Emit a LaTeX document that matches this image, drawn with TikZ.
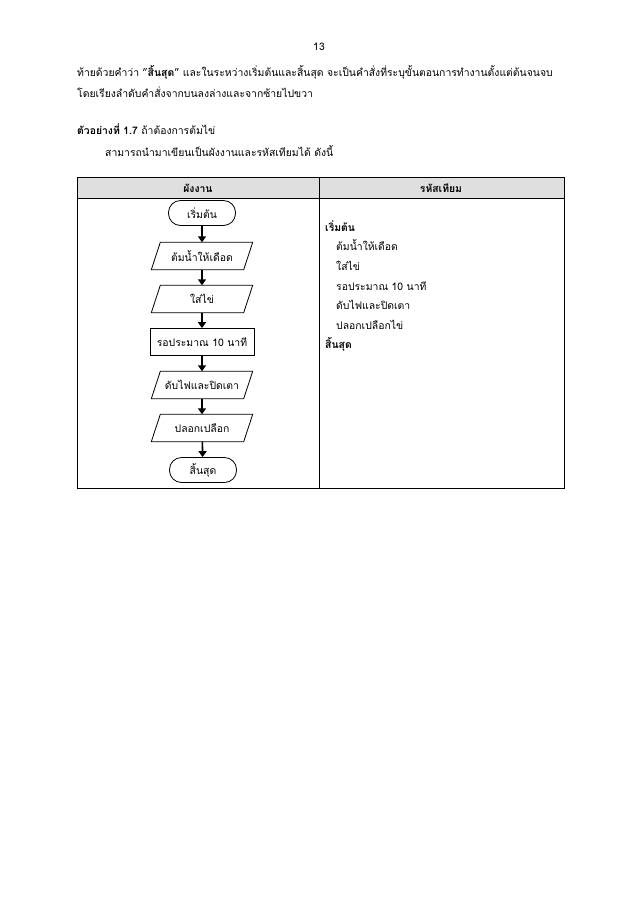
\documentclass[tikz,border=0pt]{standalone}
\usepackage{fontspec}
\setmainfont[Script=Thai]{Loma}
\usetikzlibrary{arrows.meta,calc}
\begin{document}
\begin{tikzpicture}[x=1pt,y=-1pt,font=\fontsize{10.4}{12}\selectfont,
  txt/.style={anchor=base west,inner sep=0},
  term/.style={draw,thick,rounded corners=12pt,minimum width=67pt,minimum height=25pt,inner sep=0},
  io/.style={minimum width=92pt,minimum height=27pt,inner sep=0},
  proc/.style={draw,thick,minimum width=104pt,minimum height=27pt,inner sep=0},
  arr/.style={line width=1.6pt,-{Triangle[length=6pt,width=8pt]}}]
\useasboundingbox (0,0) rectangle (638,903);
\newcommand\pgram[1]{\draw[thick] ($(#1.north west)+(4.5pt,0)$) -- ($(#1.north east)+(4.5pt,0)$) -- ($(#1.south east)+(-4.5pt,0)$) -- ($(#1.south west)+(-4.5pt,0)$) -- cycle;}
\node[inner sep=0] (pg) at (319,47) {13};
\node[txt] (l1) at (77,76) {ท้ายด้วยคำว่า "\textbf{สิ้นสุด}" และในระหว่างเริ่มต้นและสิ้นสุด จะเป็นคำสั่งที่ระบุขั้นตอนการทำงานตั้งแต่ต้นจนจบ};
\node[txt] (l2) at (77,97) {โดยเรียงลำดับคำสั่งจากบนลงล่างและจากซ้ายไปขวา};
\node[txt] (l3) at (77,134) {\textbf{ตัวอย่างที่ 1.7} ถ้าต้องการต้มไข่};
\node[txt] (l4) at (105,156) {สามารถนำมาเขียนเป็นผังงานและรหัสเทียมได้ ดังนี้};
% table
\fill[gray!25] (77,177) rectangle (564,198);
\draw (77,177) rectangle (564,488);
\draw (77,198) -- (564,198);
\draw (319,177) -- (319,488);
\node[font=\fontsize{10.4}{12}\selectfont\bfseries] (h1) at (198,188) {ผังงาน};
\node[font=\fontsize{10.4}{12}\selectfont\bfseries] (h2) at (441,188) {รหัสเทียม};
% flowchart
\node[term] (s) at (202,213) {เริ่มต้น};
\node[io] (a) at (202,256) {ต้มน้ำให้เดือด}; \pgram{a}
\node[io] (b) at (202,299) {ใส่ไข่}; \pgram{b}
\node[proc] (c) at (202,342) {รอประมาณ 10 นาที};
\node[io] (d) at (202,385) {ดับไฟและปิดเตา}; \pgram{d}
\node[io] (e) at (202,428) {ปลอกเปลือก}; \pgram{e}
\node[term] (f) at (203,470) {สิ้นสุด};
\draw[arr] (s) -- (a);
\draw[arr] (a) -- (b);
\draw[arr] (b) -- (c);
\draw[arr] (c) -- (d);
\draw[arr] (d) -- (e);
\draw[arr] (e) -- (f);
% pseudocode
\node[txt,font=\fontsize{10.4}{12}\selectfont\bfseries] (p0) at (325,231) {เริ่มต้น};
\node[txt] (p1) at (336,250) {ต้มน้ำให้เดือด};
\node[txt] (p2) at (336,270) {ใส่ไข่};
\node[txt] (p3) at (336,290) {รอประมาณ 10 นาที};
\node[txt] (p4) at (336,309) {ดับไฟและปิดเตา};
\node[txt] (p5) at (336,329) {ปลอกเปลือกไข่};
\node[txt,font=\fontsize{10.4}{12}\selectfont\bfseries] (p6) at (325,348) {สิ้นสุด};
\end{tikzpicture}
\end{document}
